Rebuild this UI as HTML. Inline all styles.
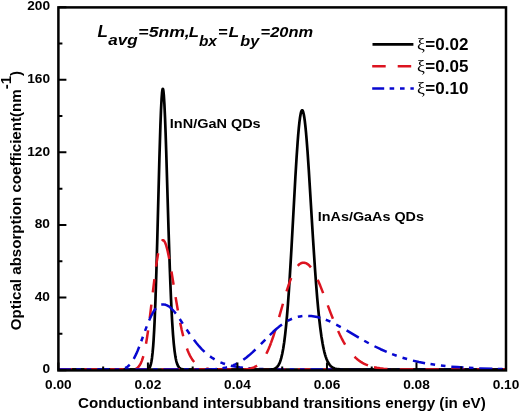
<!DOCTYPE html>
<html><head><meta charset="utf-8"><title>Optical absorption coefficient</title>
<style>html,body{margin:0;padding:0;background:#fff}svg{display:block}</style></head>
<body>
<svg width="520" height="412" viewBox="0 0 520 412">
<rect width="520" height="412" fill="#fff"/>
<path d="M58.40,369.60 L145.40,369.57 L146.40,369.51 L147.20,369.38 L147.80,369.20 L148.40,368.89 L149.00,368.39 L149.40,367.89 L149.80,367.22 L150.20,366.33 L150.80,364.46 L151.40,361.75 L152.00,357.93 L152.60,352.71 L153.20,345.79 L153.60,340.08 L154.20,329.68 L154.60,321.43 L155.40,301.67 L156.40,270.99 L157.20,242.47 L159.40,158.29 L160.40,125.60 L161.00,110.11 L161.60,98.53 L162.00,93.24 L162.20,91.36 L162.40,89.99 L162.60,89.15 L162.80,88.82 L163.00,89.02 L163.20,89.72 L163.40,90.93 L163.80,94.82 L164.40,104.09 L165.00,116.99 L165.60,132.87 L166.20,150.99 L168.60,231.42 L169.80,268.10 L170.40,284.21 L171.00,298.63 L171.60,311.30 L172.20,322.25 L173.00,334.33 L173.80,343.83 L174.60,351.12 L175.40,356.58 L175.80,358.74 L176.20,360.58 L176.60,362.14 L177.20,364.04 L177.80,365.49 L178.40,366.58 L179.00,367.41 L179.80,368.19 L180.40,368.59 L181.00,368.89 L181.80,369.16 L182.60,369.33 L184.60,369.52 L188.20,369.59 L506.00,369.60" stroke="#000" stroke-width="2.7" fill="none" stroke-linejoin="round"/>
<path d="M58.70,369.60 L72.18,369.60 M84.41,369.60 L97.88,369.60 M110.11,369.60 L123.59,369.60 M135.82,368.69 L136.42,368.41 L136.99,368.07 L137.54,367.68 L138.07,367.22 L139.07,366.12 L139.99,364.76 L140.87,363.11 L141.72,361.12 L142.54,358.78 L143.34,356.08 M146.02,343.71 L147.05,337.57 L148.12,330.33 M149.75,318.06 L151.37,304.68 M152.82,292.35 L154.42,279.03 M156.05,266.59 L157.12,259.33 L158.15,253.33 M161.77,240.99 L162.30,240.44 L162.57,240.27 L162.85,240.20 L163.10,240.20 L163.37,240.29 L163.65,240.45 L163.92,240.70 L164.47,241.44 L165.05,242.54 L165.62,243.95 L166.20,245.67 M166.20,245.67 L166.92,248.23 L167.67,251.29 L168.45,254.86 L169.27,259.04 M171.45,271.43 L173.60,284.73 M175.60,297.14 L177.88,310.53 M180.20,322.83 L181.72,329.96 L183.22,336.21 M186.95,348.53 L187.77,350.69 L188.62,352.72 L189.50,354.62 L190.38,356.33 L191.27,357.91 L192.22,359.40 L193.20,360.75 L194.20,361.97 M206.35,368.52 L208.92,368.91 L211.90,369.19 L215.42,369.38 L219.82,369.50 M232.05,369.59 L245.52,369.60 M257.75,369.60 L271.23,369.60 M272.00,369.60 L285.48,369.60 M297.73,369.60 L311.20,369.60 M323.43,369.60 L336.90,369.60 M349.10,369.60 L362.57,369.60 M374.80,369.60 L379.00,369.60 M379.00,369.60 L392.48,369.60 M404.73,369.60 L418.20,369.60 M430.43,369.60 L443.90,369.60 M456.10,369.60 L469.57,369.60 M481.80,369.60 L495.27,369.60" stroke="#dc1420" stroke-width="2.5" fill="none" stroke-linejoin="round"/>
<path d="M58.70,369.60 L70.88,369.60 M76.30,369.60 L80.88,369.60 M86.73,369.60 L91.28,369.60 M97.12,369.60 L109.28,369.60 M114.70,369.58 L117.28,369.52 L119.28,369.41 M125.10,368.09 L126.33,367.45 L127.48,366.69 L128.60,365.77 L129.68,364.71 M133.75,358.88 L135.03,356.45 L136.35,353.64 L137.73,350.45 L139.20,346.76 M141.25,341.30 L142.90,336.75 M145.03,330.89 L146.73,326.35 M149.10,320.47 L150.90,316.50 L152.60,313.23 L153.45,311.78 L154.28,310.50 L155.10,309.35 L155.93,308.32 M161.28,304.65 L161.98,304.52 L162.70,304.45 L163.53,304.45 L164.30,304.51 M164.30,304.51 L165.62,304.80 L166.98,305.32 L168.33,306.06 L169.73,307.06 L171.15,308.29 L172.62,309.77 L174.18,311.52 L175.85,313.61 M179.75,319.05 L182.78,323.58 M186.62,329.44 L189.70,334.00 M193.88,339.82 L196.60,343.31 L199.28,346.47 L201.93,349.32 L204.60,351.92 M210.03,356.38 L212.28,357.93 L214.60,359.36 M220.43,362.29 L222.68,363.20 L225.00,364.03 M230.82,365.68 L233.62,366.30 L236.57,366.85 L239.70,367.33 L243.00,367.76 M248.43,368.29 L253.00,368.61 M258.82,368.92 L263.40,369.09 M269.23,369.24 L272.00,369.30 M272.00,369.30 L284.20,369.46 M289.60,369.50 L294.20,369.52 M300.02,369.55 L304.57,369.56 M310.43,369.57 L322.57,369.59 M328.00,369.59 L332.57,369.59 M338.43,369.59 L342.98,369.60 M348.80,369.60 L360.98,369.60 M366.43,369.60 L370.98,369.60 M376.80,369.60 L379.00,369.60 M379.00,369.60 L391.20,369.60 M396.60,369.60 L401.20,369.60 M407.02,369.60 L411.57,369.60 M417.43,369.60 L429.57,369.60 M435.00,369.60 L439.57,369.60 M445.43,369.60 L449.98,369.60 M455.80,369.60 L467.98,369.60 M473.43,369.60 L477.98,369.60 M483.80,369.60 L488.40,369.60 M494.23,369.60 L506.00,369.60" stroke="#0808d0" stroke-width="2.5" fill="none" stroke-linejoin="round"/>
<path d="M58.40,369.60 L267.40,369.58 L269.60,369.53 L271.20,369.42 L272.40,369.28 L273.60,369.02 L274.60,368.68 L275.60,368.18 L276.40,367.61 L277.20,366.86 L278.00,365.86 L278.60,364.92 L279.40,363.36 L280.00,361.92 L280.60,360.20 L281.20,358.18 L282.20,354.04 L283.20,348.77 L284.20,342.21 L285.20,334.20 L286.20,324.62 L287.00,315.78 L288.00,303.24 L288.80,292.04 L289.80,276.69 L291.40,249.53 L295.40,176.77 L296.60,157.05 L297.60,142.56 L298.20,134.92 L298.80,128.19 L299.40,122.45 L300.00,117.77 L300.60,114.18 L301.00,112.42 L301.20,111.74 L301.60,110.75 L301.80,110.45 L302.00,110.28 L302.20,110.24 L302.40,110.33 L302.60,110.54 L302.80,110.89 L303.20,111.95 L303.80,114.48 L304.40,118.07 L304.80,121.03 L305.40,126.27 L306.00,132.41 L306.60,139.35 L307.60,152.46 L308.80,170.19 L313.00,238.67 L315.00,269.08 L316.20,285.44 L317.20,297.78 L318.20,308.88 L319.20,318.75 L320.20,327.39 L321.40,336.25 L322.60,343.57 L323.20,346.71 L323.80,349.54 L324.40,352.07 L325.00,354.32 L325.60,356.33 L326.40,358.65 L327.20,360.61 L328.00,362.25 L328.80,363.63 L329.60,364.77 L330.60,365.92 L331.20,366.48 L331.80,366.97 L332.40,367.38 L333.20,367.85 L334.60,368.45 L336.20,368.90 L338.00,369.21 L340.20,369.41 L342.80,369.52 L346.60,369.58 L353.60,369.60 L506.00,369.60" stroke="#000" stroke-width="2.7" fill="none" stroke-linejoin="round"/>
<path d="M58.70,369.60 L72.17,369.60 M84.40,369.60 L97.88,369.60 M110.12,369.60 L123.60,369.60 M135.80,369.60 L149.27,369.60 M161.50,369.60 L166.50,369.60 M166.50,369.60 L179.97,369.60 M192.22,369.60 L205.70,369.60 M217.90,369.60 L231.38,369.60 M243.62,369.40 L245.93,369.23 L247.93,369.00 L249.72,368.68 L251.38,368.28 L252.93,367.78 L254.38,367.17 L255.75,366.45 L257.07,365.60 M266.35,353.74 L267.50,351.39 L268.65,348.82 L269.82,345.99 L271.00,342.94 M271.00,342.94 L273.18,336.76 L275.50,329.48 M279.12,317.15 L282.93,303.74 M286.55,291.47 L288.95,284.09 L290.07,280.93 L291.18,278.04 M297.75,265.83 L298.52,265.00 L299.32,264.29 L300.12,263.72 L300.93,263.27 L301.73,262.96 L302.55,262.77 L303.43,262.70 L304.35,262.74 L305.18,262.90 L306.00,263.18 L306.82,263.58 L307.62,264.10 L308.43,264.73 L309.25,265.50 L310.07,266.40 L310.90,267.41 M317.68,279.65 L320.20,285.59 L323.15,293.09 M327.77,305.40 L330.60,312.87 L332.93,318.82 M338.12,331.06 L339.90,334.83 L341.65,338.31 L343.40,341.55 L345.12,344.51 M354.50,356.74 L356.02,358.17 L357.60,359.51 L359.20,360.73 L360.85,361.86 L362.52,362.87 L364.27,363.81 L366.10,364.66 L367.98,365.42 M374.00,367.20 L376.95,367.79 L380.12,368.28 L383.60,368.67 L387.48,368.97 M399.73,369.43 L413.20,369.56 M425.43,369.59 L438.90,369.60 M451.10,369.60 L464.57,369.60 M476.80,369.60 L477.00,369.60 M477.00,369.60 L490.48,369.60 M502.73,369.60 L506.00,369.60" stroke="#dc1420" stroke-width="2.5" fill="none" stroke-linejoin="round"/>
<path d="M58.70,369.60 L70.88,369.60 M76.33,369.60 L80.88,369.60 M86.73,369.60 L91.30,369.60 M97.12,369.60 L109.30,369.60 M114.70,369.60 L119.30,369.60 M125.12,369.60 L129.70,369.60 M135.50,369.60 L147.70,369.60 M153.12,369.60 L157.70,369.60 M163.52,369.60 L166.50,369.60 M166.50,369.60 L178.70,369.60 M184.12,369.60 L188.70,369.60 M194.53,369.59 L199.10,369.58 M204.90,369.53 L211.68,369.34 L214.50,369.18 L217.10,368.97 M222.50,368.29 L224.82,367.85 L227.07,367.33 M232.90,365.44 L235.20,364.45 L237.48,363.33 M243.30,359.78 L246.15,357.69 L249.07,355.32 L252.15,352.62 L255.48,349.49 M260.88,344.10 L265.35,339.53 M269.80,335.06 L273.20,331.80 L276.28,329.03 L279.20,326.59 L282.00,324.46 M287.40,320.98 L289.70,319.78 L292.00,318.74 M297.82,316.85 L300.10,316.40 L302.40,316.09 M308.23,315.89 L311.25,316.08 L314.25,316.47 L317.30,317.07 L320.40,317.88 M325.80,319.73 L328.05,320.65 L330.40,321.69 M336.23,324.57 L340.77,327.04 M346.60,330.39 L358.77,337.59 M364.23,340.73 L368.77,343.24 M374.50,346.25 L380.65,349.24 L386.70,351.93 M392.10,354.10 L396.70,355.79 M402.52,357.71 L407.07,359.06 M412.93,360.60 L418.90,361.97 L425.07,363.19 M430.50,364.11 L435.10,364.80 M440.93,365.55 L445.48,366.07 M451.30,366.63 L457.23,367.12 L463.48,367.55 M468.93,367.87 L473.47,368.10 M479.30,368.35 L480.20,368.38 M480.20,368.38 L492.40,368.77 M497.80,368.90 L502.40,368.99" stroke="#0808d0" stroke-width="2.5" fill="none" stroke-linejoin="round"/>
<path d="M58.40,370.4 v-8 M103.16,370.4 v-4 M147.92,370.4 v-8 M192.68,370.4 v-4 M237.44,370.4 v-8 M282.20,370.4 v-4 M326.96,370.4 v-8 M371.72,370.4 v-4 M416.48,370.4 v-8 M461.24,370.4 v-4 M506.00,370.4 v-8 M58.4,370.15 h8 M58.4,333.85 h4 M58.4,297.55 h8 M58.4,261.25 h4 M58.4,224.95 h8 M58.4,188.65 h4 M58.4,152.35 h8 M58.4,116.05 h4 M58.4,79.75 h8 M58.4,43.45 h4 M58.4,7.15 h8" stroke="#000" stroke-width="2" fill="none"/>
<rect x="58.4" y="7.4" width="447.6" height="363.0" fill="none" stroke="#000" stroke-width="2.5"/>
<path d="M372.5,44.3 H413.4" stroke="#000" stroke-width="2.7"/>
<path d="M372.2,66.2 H414.2" stroke="#dc1420" stroke-width="2.5" stroke-dasharray="13.5 12"/>
<path d="M372.2,88.4 H413.8" stroke="#0808d0" stroke-width="2.5" stroke-dasharray="12 5.4 4.6 5.8 4.6 5.8"/>
<text font-family="Liberation Sans, Arial, sans-serif" font-weight="bold" font-size="12.8" text-anchor="end" transform="translate(50.0,373.4) scale(1.07,1)" >0</text>
<text font-family="Liberation Sans, Arial, sans-serif" font-weight="bold" font-size="12.8" text-anchor="end" transform="translate(50.0,300.79999999999995) scale(1.07,1)" >40</text>
<text font-family="Liberation Sans, Arial, sans-serif" font-weight="bold" font-size="12.8" text-anchor="end" transform="translate(50.0,228.19999999999996) scale(1.07,1)" >80</text>
<text font-family="Liberation Sans, Arial, sans-serif" font-weight="bold" font-size="12.8" text-anchor="end" transform="translate(50.0,155.6) scale(1.07,1)" >120</text>
<text font-family="Liberation Sans, Arial, sans-serif" font-weight="bold" font-size="12.8" text-anchor="end" transform="translate(50.0,82.99999999999994) scale(1.07,1)" >160</text>
<text font-family="Liberation Sans, Arial, sans-serif" font-weight="bold" font-size="12.8" text-anchor="end" transform="translate(50.0,10.399999999999977) scale(1.07,1)" >200</text>
<text font-family="Liberation Sans, Arial, sans-serif" font-weight="bold" font-size="12.8" text-anchor="middle" transform="translate(58.4,389.2) scale(1.07,1)" >0.00</text>
<text font-family="Liberation Sans, Arial, sans-serif" font-weight="bold" font-size="12.8" text-anchor="middle" transform="translate(147.92,389.2) scale(1.07,1)" >0.02</text>
<text font-family="Liberation Sans, Arial, sans-serif" font-weight="bold" font-size="12.8" text-anchor="middle" transform="translate(237.44,389.2) scale(1.07,1)" >0.04</text>
<text font-family="Liberation Sans, Arial, sans-serif" font-weight="bold" font-size="12.8" text-anchor="middle" transform="translate(326.96,389.2) scale(1.07,1)" >0.06</text>
<text font-family="Liberation Sans, Arial, sans-serif" font-weight="bold" font-size="12.8" text-anchor="middle" transform="translate(416.47999999999996,389.2) scale(1.07,1)" >0.08</text>
<text font-family="Liberation Sans, Arial, sans-serif" font-weight="bold" font-size="12.8" text-anchor="middle" transform="translate(506.0,389.2) scale(1.07,1)" >0.10</text>
<text font-family="Liberation Sans, Arial, sans-serif" font-weight="bold" font-size="15" text-anchor="middle" transform="translate(281.9,407.7) scale(1.0135,1)" >Conductionband intersubband transitions energy (in eV)</text>
<text font-family="Liberation Sans, Arial, sans-serif" font-weight="bold" font-size="15" text-anchor="middle" transform="translate(21.0,200.5) rotate(-90) scale(1.0075,1)">Optical absorption coefficient(nm<tspan dy="-10">-1</tspan><tspan dy="10">)</tspan></text>
<text font-size="16" transform="translate(417.0,50) scale(1.1,1)" font-family="Liberation Serif, serif">ξ</text>
<text font-family="Liberation Sans, Arial, sans-serif" font-weight="bold" font-size="16" text-anchor="start" transform="translate(425.34032,50) scale(1.064,1)" >=0.02</text>
<text font-size="16" transform="translate(417.0,72) scale(1.1,1)" font-family="Liberation Serif, serif">ξ</text>
<text font-family="Liberation Sans, Arial, sans-serif" font-weight="bold" font-size="16" text-anchor="start" transform="translate(425.34032,72) scale(1.064,1)" >=0.05</text>
<text font-size="16" transform="translate(417.0,94.3) scale(1.1,1)" font-family="Liberation Serif, serif">ξ</text>
<text font-family="Liberation Sans, Arial, sans-serif" font-weight="bold" font-size="16" text-anchor="start" transform="translate(425.34032,94.3) scale(1.064,1)" >=0.10</text>
<text font-family="Liberation Sans, Arial, sans-serif" font-weight="bold" font-size="16" text-anchor="start" transform="translate(97.53,36.8) scale(1.067,1)" font-style="italic">L</text>
<text font-family="Liberation Sans, Arial, sans-serif" font-weight="bold" font-size="15" text-anchor="start" transform="translate(108.26,45.2) scale(1.137,1)" font-style="italic">avg</text>
<text font-family="Liberation Sans, Arial, sans-serif" font-weight="bold" font-size="14.7" text-anchor="start" transform="translate(138.35,37.0) scale(1.2,1)" font-style="italic">=5nm,</text>
<text font-family="Liberation Sans, Arial, sans-serif" font-weight="bold" font-size="14.7" text-anchor="start" transform="translate(188.71,37.0) scale(1.143,1)" font-style="italic">L</text>
<text font-family="Liberation Sans, Arial, sans-serif" font-weight="bold" font-size="15.3" text-anchor="start" transform="translate(198.95,45.5) scale(1.006,1)" font-style="italic">bx</text>
<text font-family="Liberation Sans, Arial, sans-serif" font-weight="bold" font-size="14.7" text-anchor="start" transform="translate(218.03,37.2) scale(1.112,1)" font-style="italic">=</text>
<text font-family="Liberation Sans, Arial, sans-serif" font-weight="bold" font-size="14.7" text-anchor="start" transform="translate(228.5,37.3) scale(1.194,1)" font-style="italic">L</text>
<text font-family="Liberation Sans, Arial, sans-serif" font-weight="bold" font-size="15.3" text-anchor="start" transform="translate(240.34,45.8) scale(1.059,1)" font-style="italic">by</text>
<text font-family="Liberation Sans, Arial, sans-serif" font-weight="bold" font-size="14.7" text-anchor="start" transform="translate(260.62,37.4) scale(1.119,1)" font-style="italic">=20nm</text>
<text font-family="Liberation Sans, Arial, sans-serif" font-weight="bold" font-size="13.5" text-anchor="start" transform="translate(169.854,127.7) scale(1.072,1)" >InN/GaN QDs</text>
<text font-family="Liberation Sans, Arial, sans-serif" font-weight="bold" font-size="13.5" text-anchor="start" transform="translate(317.86368,221.2) scale(1.064,1)" >InAs/GaAs QDs</text>
</svg>
</body></html>
